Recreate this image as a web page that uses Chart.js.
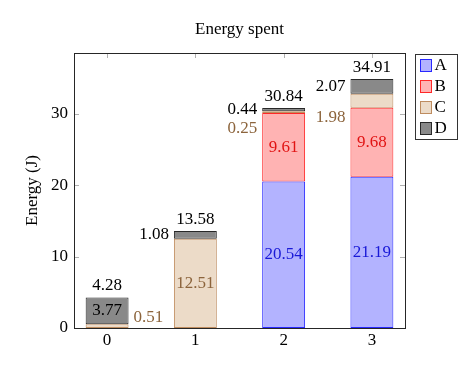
<!DOCTYPE html>
<html><head><meta charset="utf-8">
<script src="https://cdn.jsdelivr.net/npm/chart.js@4"></script>
<style>html,body{margin:0;padding:0;background:#fff}</style>
</head><body>
<canvas id="c" width="474" height="368" style="display:block;width:474px;height:368px"></canvas>
<script>
// ---- data ----
const categories = ['0', '1', '2', '3'];
const seriesNames = ['A', 'B', 'C', 'D'];
const seriesA = [0, 0, 20.54, 21.19];
const seriesB = [0, 0, 9.61, 9.68];
const seriesC = [0.51, 12.51, 0.25, 1.98];
const seriesD = [3.77, 1.08, 0.44, 2.07];
const totals = [4.28, 13.58, 30.84, 34.91];
const yTicks = [0, 10, 20, 30];

// ---- styles ----
const FONT = "'Liberation Serif', 'Times New Roman', serif";
const styleA = {fill: 'rgb(179,179,255)', border: 'rgb(40,40,255)', text: 'rgb(25,25,215)', shift: 0};
const styleB = {fill: 'rgb(255,179,179)', border: 'rgb(255,40,40)', text: 'rgb(225,20,20)', shift: 0};
const styleC = {fill: 'rgb(236,219,200)', border: 'rgb(190,140,95)', text: 'rgb(140,100,60)', shift: 17};
const styleD = {fill: 'rgb(137,137,137)', border: 'rgb(40,40,40)', text: 'rgb(0,0,0)', shift: 0};

function makeDataset(name, values, st) {
  return {
    label: name,
    data: values.map((v, i) => ({x: i, y: v})),
    backgroundColor: st.fill,
    borderColor: st.border,
    borderWidth: ctx => (ctx.raw && ctx.raw.y ? 1 : 0),
    borderSkipped: false,
    categoryPercentage: 1,
    barPercentage: 0.486,
    labelColor: st.text,
    outsideShift: st.shift
  };
}

const overlay = {
  id: 'overlay',
  afterDatasetsDraw(chart) {
    const ctx = chart.ctx;
    const ca = chart.chartArea;
    const xs = chart.scales.x, ys = chart.scales.y;
    ctx.save();
    // inner tick marks
    ctx.strokeStyle = '#b0b0b0';
    ctx.lineWidth = 1;
    const tl = 5;
    ctx.beginPath();
    yTicks.forEach(v => {
      const py = Math.round(ys.getPixelForValue(v)) + 0.5;
      if (v === 0) return;
      ctx.moveTo(ca.left, py); ctx.lineTo(ca.left + tl, py);
      ctx.moveTo(ca.right, py); ctx.lineTo(ca.right - tl, py);
    });
    categories.forEach((c, i) => {
      const px = Math.round(xs.getPixelForValue(i)) + 0.5;
      ctx.moveTo(px, ca.top); ctx.lineTo(px, ca.top + tl);
    });
    ctx.stroke();
    // frame
    ctx.strokeStyle = '#262626';
    ctx.strokeRect(Math.round(ca.left) + 0.5, Math.round(ca.top) + 0.5,
                   Math.round(ca.right - ca.left), Math.round(ca.bottom - ca.top));

    // value labels
    ctx.font = '17px ' + FONT;
    ctx.textBaseline = 'middle';
    const gap = 5;
    categories.forEach((c, i) => {
      let topY = Infinity, barX = 0;
      chart.data.datasets.forEach((ds, d) => {
        const el = chart.getDatasetMeta(d).data[i];
        const v = ds.data[i].y;
        if (!el || !v) return;
        const h = Math.abs(el.base - el.y);
        const cy = (el.base + el.y) / 2;
        topY = Math.min(topY, el.y);
        barX = el.x;
        const txt = v.toFixed(2);
        ctx.fillStyle = ds.labelColor;
        if (h >= 18) {
          ctx.textAlign = 'center';
          ctx.fillText(txt, el.x, cy);
        } else {
          const yy = Math.min(cy + ds.outsideShift, ca.bottom - 10);
          if (i === 0) {
            ctx.textAlign = 'left';
            ctx.fillText(txt, el.x + el.width / 2 + gap, yy);
          } else {
            ctx.textAlign = 'right';
            ctx.fillText(txt, el.x - el.width / 2 - gap, yy);
          }
        }
      });
      ctx.fillStyle = '#000';
      ctx.textAlign = 'center';
      ctx.fillText(totals[i].toFixed(2), barX, topY - 11.5);
    });

    // legend
    const lx = Math.round(ca.right) + 10.5, ly = Math.round(ca.top) + 1.5;
    const lw = 42, rowH = 21;
    const lh = rowH * chart.data.datasets.length + 1;
    ctx.strokeStyle = '#333';
    ctx.strokeRect(lx, ly, lw, lh);
    chart.data.datasets.forEach((ds, k) => {
      const sy = ly + 5 + k * rowH;
      ctx.fillStyle = ds.backgroundColor;
      ctx.fillRect(lx + 5, sy, 11, 12);
      ctx.strokeStyle = ds.borderColor;
      ctx.strokeRect(lx + 5, sy, 11, 12);
      ctx.fillStyle = '#000';
      ctx.textAlign = 'left';
      ctx.fillText(ds.label, lx + 19, sy + 6.5);
    });
    ctx.restore();
  }
};

new Chart(document.getElementById('c'), {
  type: 'bar',
  data: {
    datasets: [
      makeDataset(seriesNames[0], seriesA, styleA),
      makeDataset(seriesNames[1], seriesB, styleB),
      makeDataset(seriesNames[2], seriesC, styleC),
      makeDataset(seriesNames[3], seriesD, styleD)
    ]
  },
  options: {
    responsive: false,
    animation: false,
    devicePixelRatio: 1,
    layout: {padding: {left: 0, right: 69, top: 0, bottom: 0}},
    plugins: {
      legend: {display: false},
      tooltip: {enabled: false},
      title: {
        display: true, text: 'Energy spent', color: '#000', fullSize: false,
        font: {family: FONT, size: 17, weight: 'normal'},
        padding: {top: 19.5, bottom: 13.1}
      }
    },
    scales: {
      x: {
        type: 'linear', stacked: true, min: -0.375, max: 3.375,
        offset: false, bounds: 'data',
        grid: {display: false, drawTicks: false, offset: false},
        border: {display: false},
        afterBuildTicks: s => { s.ticks = categories.map((c, i) => ({value: i})); },
        ticks: {
          callback: v => categories[v], color: '#000',
          font: {family: FONT, size: 17}, padding: 2, autoSkip: false, maxRotation: 0
        },
        afterFit: s => { s.height = 40; }
      },
      y: {
        stacked: true, min: 0, max: 38.55,
        grid: {display: false, drawTicks: false},
        border: {display: false},
        afterBuildTicks: s => { s.ticks = yTicks.map(v => ({value: v})); },
        ticks: {color: '#000', font: {family: FONT, size: 17}, padding: 6},
        title: {
          display: true, text: 'Energy (J)', color: '#000',
          font: {family: FONT, size: 17}, padding: {top: 22, bottom: 0}
        },
        afterFit: s => { s.width = 74; }
      }
    }
  },
  plugins: [overlay]
});
</script>
</body></html>
